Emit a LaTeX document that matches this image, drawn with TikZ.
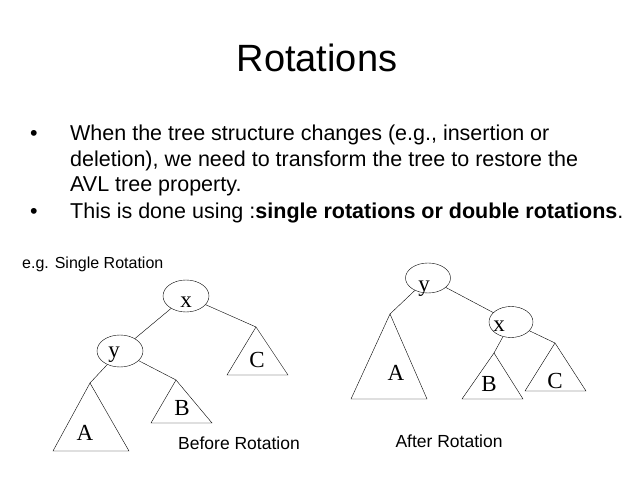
\documentclass[tikz,border=0pt]{standalone}
\usepackage{fontspec}
\setmainfont{Liberation Sans}
\newfontfamily\treefont{Liberation Serif}
\usetikzlibrary{shapes.geometric,positioning}

\begin{document}
\begin{tikzpicture}[x=1pt,y=-1pt,
    key/.style={draw,ellipse,minimum width=46pt,minimum height=32pt,inner sep=0pt},
    sub/.style={draw,line join=miter},
    lbl/.style={font=\treefont\fontsize{23}{23}\selectfont,inner sep=0pt},
    txt/.style={anchor=base west,inner sep=0pt,font=\fontsize{21.5}{21.5}\selectfont}]

    % Frame
    \useasboundingbox (0,0) rectangle (638,478);

    % Title and bullets
    \node[inner sep=0pt,font=\fontsize{38}{38}\selectfont] (title) at (317,58) {Rotations};
    \node[txt] (b1) at (30,141) {•};
    \node[txt] (l1) at (70,141) {When the tree structure changes (e.g., insertion or};
    \node[txt] (l2) at (70,167) {deletion), we need to transform the tree to restore the};
    \node[txt] (l3) at (70,192) {AVL tree property.};
    \node[txt] (b2) at (30,219) {•};
    \node[txt] (l4) at (70,219) {This is done using :\textbf{single rotations or double rotations}.};
    \node[txt,font=\fontsize{16}{16}\selectfont] (eg) at (22,269) {e.g. Single Rotation};

    % Before rotation
    \node[key] (bx) at (186,296) {};
    \node[key] (by) at (120,351) {};
    \node[lbl] (bxl) at (186,302) {x};
    \node[lbl] (byl) at (114,355) {y};
    \coordinate (bA) at (90,383);
    \coordinate (bB) at (176,380);
    \coordinate (bC) at (256,327);
    \draw[sub] (bA) -- (53,451) -- (129,451) -- cycle;
    \draw[sub] (bB) -- (151,423) -- (212,423) -- cycle;
    \draw[sub] (bC) -- (227,375) -- (288,375) -- cycle;
    \node[lbl] at (85,433) {A};
    \node[lbl] at (182,408) {B};
    \node[lbl] at (257,360) {C};
    \draw (bx) -- (by);
    \draw (bx) -- (bC);
    \draw (by) -- (bA);
    \draw (by) -- (bB);
    \node[inner sep=0pt,font=\fontsize{17.5}{17.5}\selectfont] (before) at (239,443) {Before Rotation};

    % After rotation
    \node[key,minimum width=45pt,minimum height=30pt] (ay) at (428,278) {};
    \node[key,minimum width=44pt,minimum height=31pt] (ax) at (511,322) {};
    \node[lbl] (ayl) at (424,289) {y};
    \node[lbl] (axl) at (499,326) {x};
    \coordinate (aA) at (390,314);
    \coordinate (aB) at (494,353);
    \coordinate (aC) at (555,343);
    \draw[sub] (aA) -- (351,399) -- (427,399) -- cycle;
    \draw[sub] (aB) -- (462,399) -- (523,399) -- cycle;
    \draw[sub] (aC) -- (525,391) -- (586,391) -- cycle;
    \node[lbl] at (396,373) {A};
    \node[lbl] at (489,384) {B};
    \node[lbl] at (555,381) {C};
    \draw (ay) -- (aA);
    \draw (ay) -- (ax);
    \draw (ax) -- (aB);
    \draw (ax) -- (aC);
    \node[inner sep=0pt,font=\fontsize{17.5}{17.5}\selectfont] (after) at (449,441) {After Rotation};
\end{tikzpicture}
\end{document}
